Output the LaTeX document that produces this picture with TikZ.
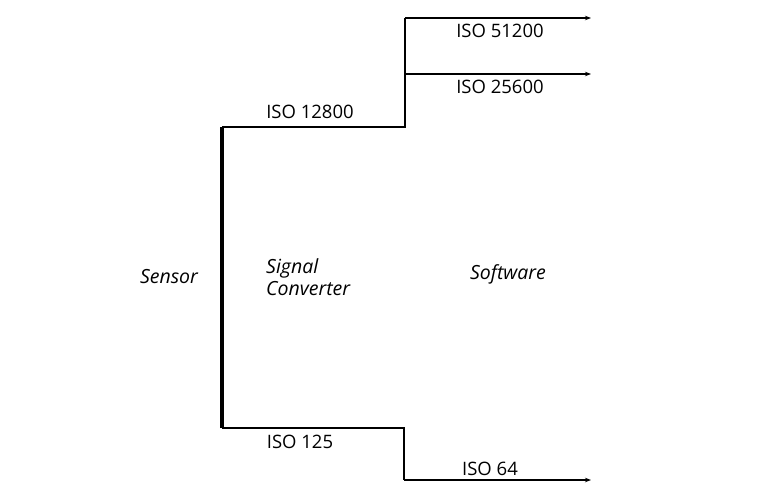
\documentclass[tikz,border=0pt]{standalone}
\usepackage{fontspec}
\setmainfont{Open Sans}
\usetikzlibrary{arrows.meta}
\begin{document}
\begin{tikzpicture}[x=1pt,y=-1pt,
  wire/.style={line width=1.3pt},
  arr/.style={wire,-{Stealth[length=6pt,width=4.5pt]}},
  lbl/.style={font=\fontsize{18.5}{21}\selectfont, inner sep=0pt},
  ilbl/.style={font=\fontsize{19.5}{22}\selectfont\itshape, inner sep=0pt}]
\useasboundingbox (0,0) rectangle (768,498);
% junction coordinates
\coordinate (top) at (222,127);
\coordinate (bot) at (222,428);
\coordinate (tr) at (405,127);
\coordinate (j1) at (405,18);
\coordinate (j2) at (405,74);
\coordinate (e1) at (591,18);
\coordinate (e2) at (591,74);
\coordinate (br) at (404,428);
\coordinate (j3) at (404,480);
\coordinate (e3) at (591,480);
% sensor bar
\draw[line width=4.5pt] (top) -- (bot);
% top branch
\draw[wire] (top) -- (tr) -- (j1);
\draw[arr] (j1) -- (e1);
\draw[arr] (j2) -- (e2);
% bottom branch
\draw[wire] (bot) -- (br) -- (j3);
\draw[arr] (j3) -- (e3);
% labels
\node[lbl] (l51200) at (500,31) {ISO 51200};
\node[lbl] (l25600) at (500,87) {ISO 25600};
\node[lbl] (l12800) at (310,112) {ISO 12800};
\node[lbl] (l125) at (300,442) {ISO 125};
\node[lbl] (l64) at (490,469) {ISO 64};
\node[ilbl] (sensor) at (169,277) {Sensor};
\node[ilbl, align=left, anchor=west] (conv) at (266,277) {Signal\\Converter};
\node[ilbl] (soft) at (508,274) {Software};
\end{tikzpicture}
\end{document}
